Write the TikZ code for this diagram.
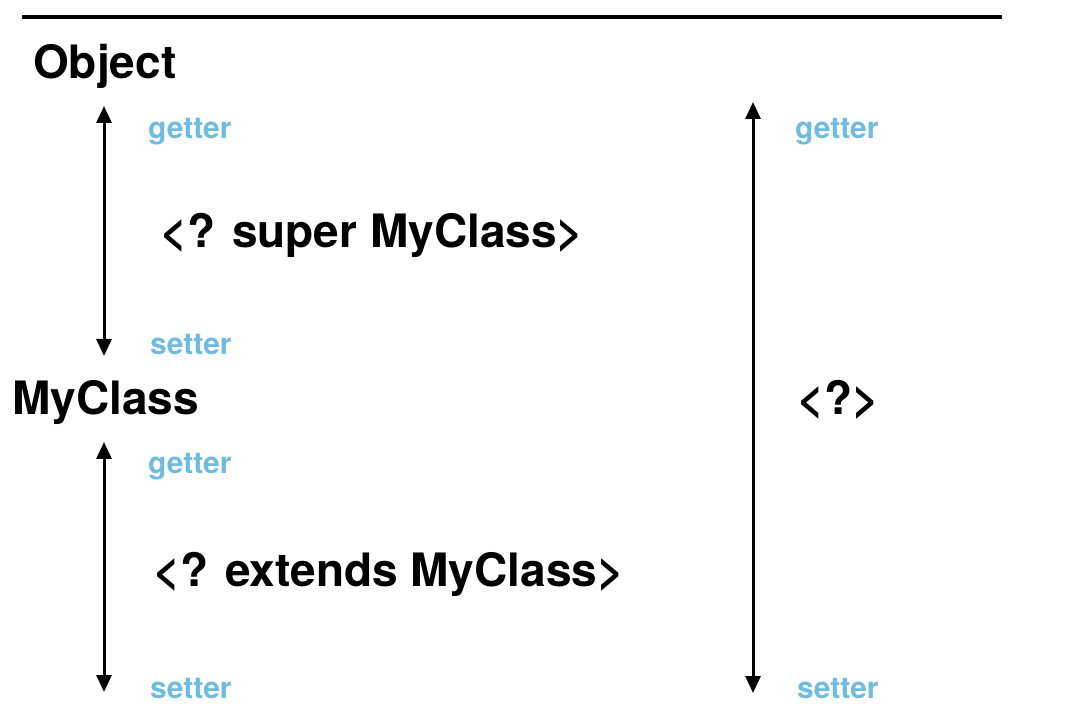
\documentclass[tikz,border=0pt]{standalone}
\usepackage{fontspec}
\setmainfont{TeX Gyre Heros}
\usetikzlibrary{arrows.meta}
\definecolor{getsetblue}{RGB}{112,188,224}
\tikzset{
  bothbound/.style={{Triangle[width=15pt,length=17pt]}-{Triangle[width=15pt,length=17pt]}, line width=3pt},
  typename/.style={anchor=base west, inner sep=0pt, font=\bfseries\fontsize{46}{50}\selectfont},
  access/.style={anchor=base west, inner sep=0pt, text=getsetblue, font=\bfseries\fontsize{30}{34}\selectfont}
}

\begin{document}
\begin{tikzpicture}[x=1pt, y=-1pt]
            \useasboundingbox (0, 0) rectangle (1080, 719);

            \coordinate (RuleL) at (22, 17);
            \coordinate (RuleR) at (1002, 17);
            \draw[line width=3.2pt] (RuleL) -- (RuleR);

            \node[typename] (Object) at (33, 79) {Object};
            \node[typename] (MyClass) at (12, 415) {MyClass};
            \node[typename] (Super) at (160, 248) {<? super MyClass>};
            \node[typename] (Extends) at (153, 586) {<? extends MyClass>};
            \node[typename] (Any) at (797, 415) {<?>};

            \node[access] (SuperGet) at (148, 139) {getter};
            \node[access] (SuperSet) at (150, 355) {setter};
            \node[access] (ExtendsGet) at (148, 474) {getter};
            \node[access] (ExtendsSet) at (150, 698) {setter};
            \node[access] (AnyGet) at (795, 139) {getter};
            \node[access] (AnySet) at (797, 698) {setter};

            \coordinate (SuperTop) at (104, 106);
            \coordinate (SuperBot) at (104, 356);
            \coordinate (ExtendsTop) at (104, 442);
            \coordinate (ExtendsBot) at (104, 692);
            \coordinate (AnyTop) at (753, 102);
            \coordinate (AnyBot) at (753, 693);

            \draw[bothbound] (SuperTop) -- (SuperBot);
            \draw[bothbound] (ExtendsTop) -- (ExtendsBot);
            \draw[bothbound] (AnyTop) -- (AnyBot);
        \end{tikzpicture}
\end{document}
